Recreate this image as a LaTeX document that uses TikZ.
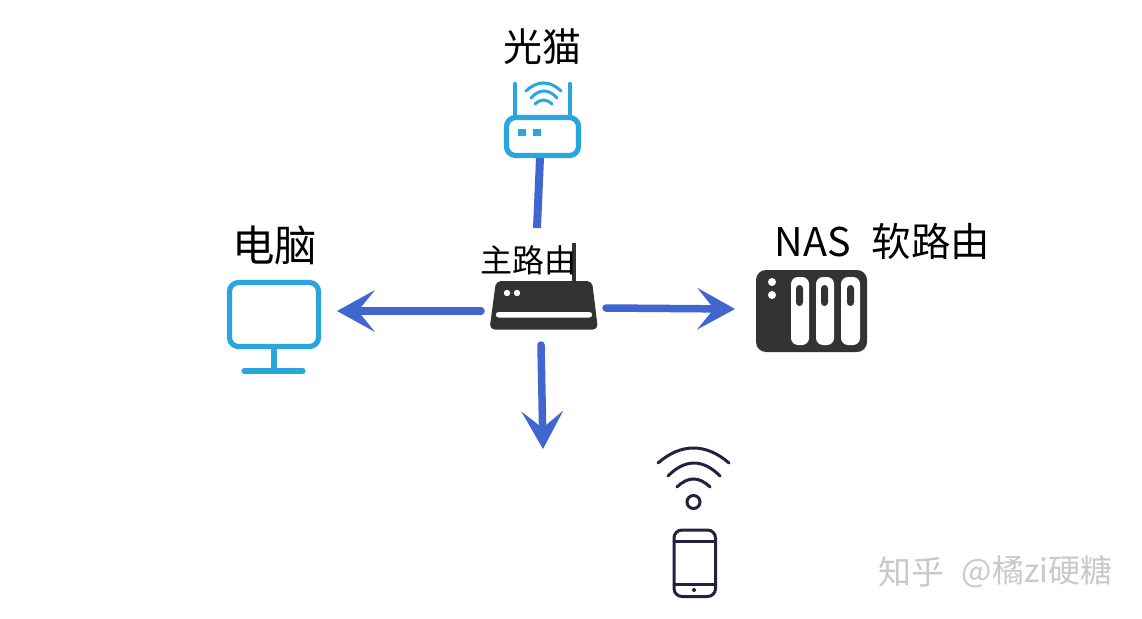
\documentclass[tikz,border=0pt]{standalone}
\usepackage{fontspec}
\setmainfont{Noto Sans CJK SC}
\usetikzlibrary{arrows.meta}
\definecolor{linkblue}{HTML}{4166D0}
\definecolor{iconblue}{HTML}{2BA5DD}
\definecolor{icondark}{HTML}{333333}
\definecolor{phoneink}{HTML}{1F2340}
\definecolor{markgrey}{HTML}{C9C9C9}
\tikzset{
  x=1pt,y=-1pt,
  link/.style={draw=linkblue,line width=7.5pt,line cap=round},
  linkarrow/.style={link,-{Stealth[length=38pt,width=42pt,inset=17pt,line width=0pt]}},
  blueicon/.style={draw=iconblue,line width=5.2pt,line cap=round},
  darkicon/.style={draw=phoneink,line width=3pt,line cap=round},
  label/.style={inner sep=0pt,text=black},
}
\begin{document}
\begin{tikzpicture}
\useasboundingbox (0,0) rectangle (1142,618);
\fill[white] (0,0) rectangle (1142,618);

% named link ends
\coordinate (modemport) at (540,158);
\coordinate (routertop) at (537,228);
\coordinate (routerleft) at (481,311);
\coordinate (pc) at (337,311);
\coordinate (routerright) at (606,308);
\coordinate (nas) at (735,309);
\coordinate (routerdown) at (541,345);
\coordinate (wifi) at (543,449);

% connectors
\draw[link,line width=8pt,line cap=butt] (modemport) -- (routertop);
\draw[linkarrow] (routerleft) -- (pc);
\draw[linkarrow] (routerright) -- (nas);
\draw[linkarrow] (routerdown) -- (wifi);

% modem
\draw[blueicon,fill=white,rounded corners=9pt] (506.5,117.5) rectangle (578.5,155.5);
\draw[blueicon,line width=4.4pt] (515,84) -- (515,116);
\draw[blueicon,line width=4.4pt] (570,84) -- (570,116);
\fill[iconblue] (518,129) rectangle (526,136);
\fill[iconblue] (533,129) rectangle (541,136);
\draw[blueicon,line width=3pt] (526,91) .. controls (537,80.3) and (550,80.3) .. (561,91);
\draw[blueicon,line width=3pt] (531,98) .. controls (539,88.7) and (549,88.7) .. (557,98);
\draw[blueicon,line width=3pt] (535,104) .. controls (541,98.7) and (546,98.7) .. (552,104);

% router
\draw[icondark,line width=3.5pt] (574,243) -- (574,283);
\fill[icondark,rounded corners=5pt] (496,281) -- (592,281) -- (598,329.5) -- (489.5,329.5) -- cycle;
\fill[white] (507,293) circle (3.2pt) (517,293) circle (3.2pt);
\fill[white,rounded corners=2.5pt] (496,312) rectangle (592,317.5);

% NAS
\fill[icondark,rounded corners=10pt] (756,270) rectangle (867,352);
\fill[white] (772,282) circle (4pt) (772,295) circle (4pt);
\foreach \xa/\xb in {791/809,816/834,841/860}{
  \fill[white,rounded corners=7pt] (\xa,277) rectangle (\xb,345);
}
\foreach \xa/\xb in {796/803,821/828,847/854}{
  \fill[icondark,rounded corners=3.5pt] (\xa,285) rectangle (\xb,306);
}

% monitor
\draw[blueicon,rounded corners=9pt] (229.5,282.5) rectangle (318.5,346.5);
\draw[blueicon,line cap=butt] (274,349) -- (274,371);
\draw[blueicon] (244,371) -- (303,371);

% wifi and phone
\draw[darkicon] (658,463) .. controls (681,443) and (706,443) .. (729,463);
\draw[darkicon] (668,476) .. controls (685,458.7) and (703,458.7) .. (720,476);
\draw[darkicon] (677,487) .. controls (688,476.3) and (699,476.3) .. (710,487);
\draw[darkicon] (693.5,502) circle (6.5pt);
\draw[darkicon,rounded corners=8pt] (674,530) rectangle (715.5,596.5);
\draw[darkicon] (674,541) -- (715.5,541);
\draw[darkicon] (674,584) -- (715.5,584);
\fill[phoneink] (694,590) circle (2pt);

% labels
\node[label,font=\fontsize{39}{39}\selectfont] (modemlabel) at (542,47) {光猫};
\node[label,font=\fontsize{42.5}{42.5}\selectfont] (pclabel) at (274.5,245) {电脑};
\node[label,font=\fontsize{32}{32}\selectfont] (routerlabel) at (528.5,260) {主路由};
\node[label,font=\fontsize{39.5}{39.5}\selectfont] (naslabel) at (882.5,241) {NAS\hspace{21pt}软路由};
\node[label,text=markgrey,font=\fontsize{33}{33}\selectfont] (zhihu) at (911,572) {知乎};
\node[label,text=markgrey,font=\fontsize{32}{32}\selectfont] (author) at (1037,572) {@橘zi硬糖};
\end{tikzpicture}
\end{document}
